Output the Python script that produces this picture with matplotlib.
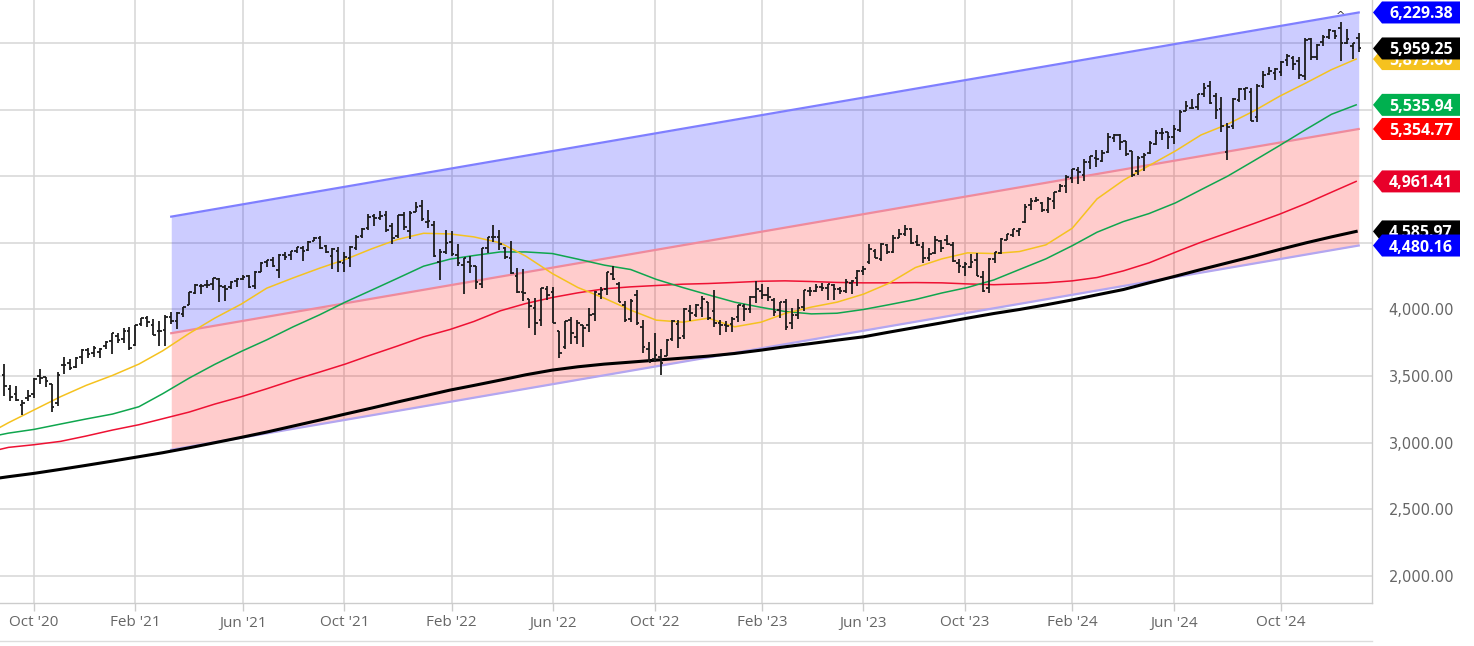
import matplotlib
matplotlib.use("Agg")
import matplotlib.pyplot as plt
import matplotlib.dates as mdates
import matplotlib.transforms as mtransforms
from matplotlib.patches import Polygon
from matplotlib.lines import Line2D
import pandas as pd

# weekly OHLC bars, first bar = week of 31 Aug 2020
first_week = "2020-08-31"

opens = [
    # 2020
    3508, 3400, 3363, 3285, 3334, 3367, 3500, 3493, 3441, 3296, 3583, 3600, 3566, 3641, 3694, 3675, 3684, 3723,
    # 2021
    3764, 3803, 3781, 3842, 3732, 3892, 3939, 3885, 3842, 3844, 3942, 3916, 3969, 4035, 4125, 4179, 4185, 4192,
    4228, 4170, 4168, 4216, 4229, 4248, 4173, 4285, 4356, 4372, 4297, 4409, 4406, 4437, 4462, 4450, 4514, 4535,
    4474, 4402, 4442, 4348, 4385, 4464, 4553, 4610, 4701, 4689, 4712, 4628, 4548, 4710, 4588, 4733,
    # 2022
    4778, 4655, 4632, 4356, 4431, 4505, 4412, 4332, 4354, 4327, 4188, 4462, 4541, 4547, 4462, 4385, 4255, 4130,
    4081, 4013, 3920, 4151, 4134, 3838, 3716, 3920, 3792, 3880, 3883, 3966, 4113, 4155, 4270, 4195, 4035, 3930,
    4109, 3872, 3703, 3628, 3647, 3653, 3778, 3893, 3798, 3985, 3962, 4009, 4055, 3985, 3895, 3881,
    # 2023
    3888, 3941, 4027, 4003, 4094, 4137, 4110, 4070, 3999, 4058, 3900, 3955, 4020, 4137, 4141, 4167, 4158, 4187,
    4153, 4140, 4200, 4233, 4286, 4355, 4438, 4376, 4486, 4429, 4533, 4567, 4605, 4509, 4472, 4390, 4422, 4514,
    4525, 4487, 4348, 4319, 4320, 4371, 4245, 4160, 4381, 4421, 4521, 4561, 4589, 4660, 4785, 4813,
    # 2024 / Jan 2025
    4796, 4749, 4814, 4890, 4924, 4985, 5049, 5007, 5107, 5140, 5117, 5183, 5290, 5308, 5264, 5192, 5042, 5147,
    5171, 5244, 5323, 5329, 5292, 5346, 5492, 5515, 5522, 5618, 5680, 5602, 5508, 5180, 5374, 5575, 5652, 5633,
    5447, 5675, 5766, 5778, 5783, 5871, 5890, 5865, 5752, 6031, 5892, 6006, 6049, 6088, 6110, 6000, 5975, 6040,
]
highs = [
    3588, 3430, 3428, 3320, 3397, 3486, 3550, 3496, 3441, 3529, 3646, 3628, 3644, 3701, 3712, 3726, 3711, 3760,
    3826, 3823, 3860, 3870, 3887, 3937, 3950, 3930, 3915, 3960, 3983, 3978, 4020, 4130, 4191, 4195, 4219, 4238,
    4236, 4187, 4213, 4234, 4256, 4262, 4286, 4356, 4372, 4393, 4415, 4429, 4442, 4469, 4480, 4513, 4545, 4548,
    4486, 4465, 4466, 4429, 4475, 4559, 4608, 4718, 4714, 4743, 4743, 4652, 4713, 4731, 4740, 4808,
    4819, 4749, 4665, 4453, 4595, 4590, 4490, 4385, 4401, 4327, 4465, 4546, 4637, 4593, 4471, 4513, 4308, 4307,
    4081, 4090, 4158, 4177, 4168, 3838, 3913, 3946, 3918, 3880, 4012, 4140, 4167, 4280, 4325, 4203, 4062, 4076,
    4144, 3922, 3757, 3825, 3702, 3777, 3918, 3923, 4011, 4036, 4040, 4104, 4055, 4146, 3918, 3916,
    3941, 4034, 4043, 4102, 4216, 4193, 4170, 4087, 4056, 4081, 4009, 4081, 4148, 4168, 4195, 4198, 4194, 4188,
    4171, 4227, 4223, 4298, 4325, 4493, 4452, 4496, 4491, 4559, 4606, 4631, 4615, 4557, 4504, 4459, 4548, 4518,
    4556, 4508, 4377, 4355, 4416, 4421, 4292, 4387, 4432, 4535, 4570, 4602, 4613, 4789, 4838, 4848,
    4805, 4844, 4884, 4944, 5007, 5058, 5071, 5129, 5155, 5199, 5200, 5322, 5320, 5315, 5268, 5192, 5151, 5171,
    5267, 5348, 5360, 5329, 5385, 5500, 5565, 5579, 5621, 5701, 5712, 5627, 5598, 5398, 5584, 5661, 5665, 5660,
    5690, 5793, 5822, 5816, 5868, 5920, 5903, 5895, 6040, 6040, 5990, 6058, 6109, 6100, 6160, 6109, 6004, 6076,
]
lows = [
    3349, 3310, 3313, 3209, 3310, 3339, 3442, 3415, 3233, 3279, 3518, 3543, 3560, 3594, 3634, 3647, 3636, 3704,
    3663, 3750, 3750, 3694, 3725, 3874, 3866, 3805, 3723, 3723, 3894, 3853, 3944, 4034, 4118, 4118, 4164, 4149,
    4057, 4062, 4155, 4168, 4218, 4164, 4155, 4280, 4321, 4318, 4233, 4371, 4373, 4424, 4367, 4436, 4513, 4456,
    4427, 4305, 4279, 4278, 4322, 4447, 4537, 4595, 4630, 4672, 4585, 4495, 4540, 4600, 4531, 4733,
    4662, 4614, 4395, 4222, 4414, 4401, 4327, 4115, 4271, 4157, 4161, 4424, 4506, 4450, 4381, 4267, 4124, 4063,
    3858, 3810, 3875, 4074, 3900, 3637, 3705, 3738, 3743, 3722, 3830, 3911, 4080, 4112, 4218, 4057, 3907, 3906,
    3881, 3670, 3605, 3609, 3508, 3650, 3766, 3710, 3777, 3914, 3944, 3941, 3921, 3872, 3807, 3833,
    3829, 3908, 3914, 3973, 4052, 4078, 4061, 3953, 3935, 3849, 3853, 3927, 3989, 4104, 4129, 4142, 4073, 4069,
    4116, 4123, 4113, 4173, 4261, 4344, 4383, 4366, 4420, 4421, 4533, 4551, 4495, 4476, 4349, 4366, 4418, 4433,
    4487, 4358, 4276, 4251, 4315, 4250, 4128, 4124, 4346, 4415, 4521, 4544, 4549, 4650, 4744, 4806,
    4733, 4728, 4756, 4882, 4877, 4946, 4943, 4964, 5052, 5066, 5109, 5178, 5258, 5197, 5153, 4996, 5007, 5043,
    5170, 5234, 5275, 5205, 5243, 5332, 5492, 5502, 5496, 5593, 5539, 5427, 5334, 5120, 5356, 5558, 5574, 5412,
    5411, 5664, 5758, 5725, 5753, 5826, 5799, 5729, 5724, 5876, 5871, 5977, 6033, 6029, 5862, 5992, 5880, 5930,
]
closes = [
    3427, 3341, 3319, 3298, 3348, 3477, 3484, 3465, 3270, 3510, 3585, 3558, 3638, 3699, 3663, 3709, 3703, 3756,
    3825, 3768, 3841, 3714, 3887, 3934, 3907, 3811, 3842, 3943, 3913, 3975, 4020, 4129, 4185, 4180, 4181, 4233,
    4174, 4156, 4204, 4230, 4247, 4166, 4281, 4352, 4370, 4327, 4412, 4395, 4437, 4468, 4442, 4509, 4535, 4458,
    4433, 4455, 4357, 4391, 4471, 4545, 4605, 4697, 4683, 4698, 4595, 4538, 4712, 4620, 4726, 4766,
    4677, 4663, 4398, 4432, 4501, 4419, 4349, 4385, 4329, 4204, 4463, 4543, 4546, 4488, 4393, 4272, 4132, 4123,
    4023, 3901, 4158, 4109, 3901, 3675, 3912, 3825, 3899, 3863, 3962, 4130, 4145, 4280, 4228, 4057, 3924, 4067,
    3898, 3716, 3607, 3659, 3600, 3768, 3914, 3783, 4003, 3973, 4032, 4076, 3936, 3897, 3887, 3878,
    3930, 4030, 4001, 4095, 4157, 4107, 4093, 3980, 4053, 3865, 3962, 4013, 4147, 4140, 4169, 4161, 4193, 4157,
    4141, 4206, 4215, 4289, 4302, 4455, 4390, 4488, 4434, 4536, 4564, 4606, 4499, 4481, 4384, 4416, 4522, 4460,
    4495, 4362, 4326, 4343, 4358, 4252, 4141, 4379, 4432, 4528, 4569, 4602, 4607, 4769, 4815, 4825,
    4748, 4830, 4882, 4928, 4991, 5055, 5029, 5107, 5151, 5133, 5175, 5294, 5309, 5255, 5169, 5009, 5137, 5160,
    5251, 5326, 5323, 5292, 5356, 5480, 5524, 5515, 5618, 5661, 5547, 5496, 5379, 5372, 5577, 5652, 5662, 5417,
    5680, 5763, 5793, 5802, 5861, 5906, 5845, 5761, 6023, 5893, 5987, 6046, 6099, 6056, 6000, 6031, 5997, 5959.25,
]

# moving averages (20, 50, 100, 200 weeks) read at the start of each month
ma20 = [
    3115, 3150, 3246, 3345, 3430,
    3505, 3590, 3690, 3820, 3935, 4040, 4160, 4237, 4310, 4375, 4455, 4525,
    4572, 4567, 4545, 4500, 4400, 4270, 4165, 4085, 3995, 3920, 3905, 3935,
    3870, 3905, 3970, 4018, 4055, 4115, 4197, 4315, 4380, 4425, 4420, 4435,
    4485, 4610, 4830, 4970, 5080, 5190, 5310, 5390, 5490, 5600, 5700, 5800,
    5879.60,
]
ma50 = [
    3059, 3072, 3100, 3140, 3178,
    3215, 3270, 3368, 3485, 3588, 3685, 3772, 3870, 3960, 4055, 4145, 4233,
    4325, 4378, 4405, 4432, 4432, 4420, 4378, 4333, 4300, 4226, 4165, 4110,
    4055, 4016, 3985, 3967, 3972, 4000, 4036, 4075, 4124, 4165, 4222, 4300,
    4380, 4479, 4580, 4660, 4720, 4800, 4899, 5000, 5116, 5230, 5351, 5465,
    5535.94,
]
ma100 = [
    2950, 2965, 2985, 3010, 3050,
    3095, 3135, 3180, 3230, 3290, 3345, 3405, 3470, 3530, 3590, 3660, 3725,
    3795, 3850, 3910, 3990, 4045, 4090, 4125, 4155, 4170, 4180, 4190, 4195,
    4203, 4212, 4215, 4210, 4203, 4200, 4200, 4202, 4200, 4192, 4186, 4192,
    4200, 4215, 4240, 4290, 4350, 4430, 4505, 4575, 4645, 4715, 4795, 4880,
    4961.41,
]
ma200 = [
    2736, 2745, 2770, 2800, 2830,
    2862, 2895, 2925, 2962, 3000, 3040, 3080, 3125, 3170, 3215, 3260, 3305,
    3350, 3395, 3430, 3470, 3510, 3545, 3570, 3590, 3605, 3620, 3635, 3650,
    3670, 3695, 3720, 3745, 3770, 3795, 3830, 3865, 3900, 3935, 3970, 4000,
    4035, 4072, 4110, 4150, 4200, 4250, 4300, 4350, 4400, 4450, 4500, 4545,
    4585.97,
]
ma_dates = ([pd.Timestamp("2020-08-26")]
            + list(pd.date_range("2020-09-01", "2024-12-01", freq="MS") + pd.Timedelta(days=4))
            + [pd.Timestamp("2025-01-03")])

# regression channel
channel_dates = ["2021-03-15", "2025-01-06"]
channel_upper = [4697, 6229.38]
channel_mid = [3822, 5354.77]
channel_lower = [2947, 4480.16]

W, H = 1474, 646
fig = plt.figure(figsize=(W / 100, H / 100), dpi=100)
ax = fig.add_axes([0, 1 - 603 / H, 1372 / W, 603 / H])

weeks = pd.date_range(first_week, periods=len(closes), freq="7D")
wx = mdates.date2num(weeks.to_pydatetime())
mx = mdates.date2num([d.to_pydatetime() for d in ma_dates])
cx = mdates.date2num(pd.to_datetime(channel_dates).to_pydatetime())

# channel
ax.fill_between(cx, channel_mid, channel_upper, color="#0000ff", alpha=0.2, lw=0, zorder=1)
ax.fill_between(cx, channel_lower, channel_mid, color="#ff0000", alpha=0.2, lw=0, zorder=1)
ax.plot(cx, channel_upper, color="#7f7fff", lw=1.6, zorder=1.5)
ax.plot(cx, channel_mid, color="#ef8a9c", lw=1.6, zorder=1.5)
ax.plot(cx, channel_lower, color="#b3a6f0", lw=1.6, zorder=1.5)

# moving averages
ax.plot(mx, ma200, color="black", lw=2.2, zorder=2)
ax.plot(mx, ma100, color="#ee1133", lw=1.1, zorder=2)
ax.plot(mx, ma50, color="#0fa64e", lw=1.1, zorder=2)
ax.plot(mx, ma20, color="#f5c21f", lw=1.1, zorder=2)

# OHLC bars
tick = 3.0
bar_col = "#1c1c1c"
ax.vlines(wx, lows, highs, color=bar_col, lw=1.3, zorder=3)
ax.hlines(opens, wx - tick, wx, color=bar_col, lw=1.3, zorder=3)
ax.hlines(closes, wx, wx + tick, color=bar_col, lw=1.3, zorder=3)

imax = highs.index(max(highs))
ax.annotate("^", (wx[imax], highs[imax]), xytext=(0, 0.5), textcoords="offset points",
            ha="center", va="bottom", fontsize=8, color="#333")

ax.set_xlim(mdates.datestr2num("2020-08-26 03:00"), mdates.datestr2num("2025-01-21 14:00"))
ax.set_ylim(1797, 6323)

# axes styling
ax.grid(True, color="#d6d6d6", lw=1.1)
ax.set_axisbelow(True)
for s in ["top", "left"]:
    ax.spines[s].set_visible(False)
for s in ["right", "bottom"]:
    ax.spines[s].set_color("#cccccc")
    ax.spines[s].set_linewidth(1.0)

ax.yaxis.tick_right()
yt = list(range(2000, 6001, 500))
ax.set_yticks(yt)
# the labels from 4,500 up sit under the price tags, so they stay blank
ax.set_yticklabels([f"{v:,.2f}" if v <= 4000 else "" for v in yt])
ax.tick_params(axis="y", length=0, pad=12, labelsize=10.5, labelcolor="#666666")

tick_idx = [i for i, d in enumerate(weeks) if d.day <= 7 and d.month in (2, 6, 10)]
ax.set_xticks(wx[tick_idx])
ax.set_xticklabels([weeks[i].strftime("%b '%y") for i in tick_idx])
ax.tick_params(axis="x", length=6, width=1, color="#cccccc", pad=3, labelsize=11, labelcolor="#666666")
for lbl in ax.get_xticklabels():
    lbl.set_fontfamily("Open Sans")

fig.add_artist(Line2D([0, 1372 / W], [1 - 641 / H] * 2, transform=fig.transFigure, color="#dddddd", lw=1))

# price tags on the right
tags = [
    (ma20[-1], "#f5c21f"),
    (closes[-1], "#000000"),
    (ma50[-1], "#00b04f"),
    (channel_mid[-1], "#ff0000"),
    (ma100[-1], "#e8002a"),
    (ma200[-1], "#000000"),
    (channel_lower[-1], "#0000ff"),
    (channel_upper[-1], "#0000ff"),
]
ident = mtransforms.IdentityTransform()
for k, (val, col) in enumerate(tags):
    yd = ax.transData.transform((cx[-1], val))[1]
    poly = Polygon([(1373, yd), (1382, yd + 11), (1460, yd + 11), (1460, yd - 11), (1382, yd - 11)],
                   closed=True, transform=ident, facecolor=col, edgecolor="none", zorder=5 + 2 * k)
    fig.add_artist(poly)
    fig.text(1421, yd, f"{val:,.2f}", transform=ident, ha="center", va="center_baseline",
             color="white", fontsize=11.5, fontweight="bold", family="Open Sans", zorder=6 + 2 * k)

fig.savefig("out.png", dpi=100)
